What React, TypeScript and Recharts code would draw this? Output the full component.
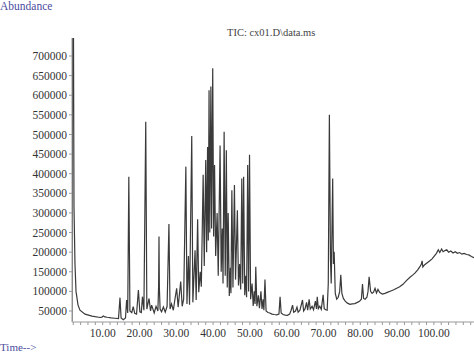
import { LineChart, Line, XAxis, YAxis } from "recharts";

// retention time (min), abundance
const solventFront: [number, number][] = [
  [1.66, 24000], [1.85, 800000], [2.05, 800000], [2.2, 315000], [2.47, 170000],
  [2.75, 100000], [3.3, 65000], [3.83, 52000], [5.2, 42000], [7.1, 37000],
  [9.3, 33500], [9.8, 34500], [10.2, 37500], [10.6, 35000], [11.2, 34000],
  [12.3, 32500], [13.3, 31500], [14.3, 30500], [14.7, 84000], [15.0, 32000],
  [15.6, 27500], [16.2, 32000], [16.5, 78000], [16.8, 45000],
];

const earlyPeaks: [number, number][] = [
  [17.1, 392000], [17.4, 50000], [17.9, 46000], [18.3, 61000], [18.7, 44000],
  [19.2, 42000], [19.7, 103500], [20.1, 48000], [20.5, 46000], [20.8, 86500],
  [21.2, 52000], [21.7, 532500], [22.0, 55000], [22.6, 82000], [23.0, 50000],
  [23.3, 65000], [24.0, 45000], [24.5, 62000], [25.0, 50000], [25.2, 115000],
  [25.3, 240000], [25.4, 110000], [25.6, 55000], [26.0, 48000], [26.5, 60000],
  [27.0, 47000], [27.5, 62000], [28.0, 272000], [28.3, 55000], [28.7, 68000],
  [29.2, 52000], [29.6, 78000], [30.1, 108000], [30.5, 60000], [31.2, 125000],
  [31.6, 62000], [32.0, 80000], [32.6, 418000], [32.9, 68000], [33.3, 190000],
  [33.6, 66000], [34.2, 496000], [34.5, 72000], [35.1, 205000], [35.4, 78000],
];

const mainCluster: [number, number][] = [
  [35.8, 284000], [36.1, 98000], [36.5, 150000], [36.8, 112000], [37.3, 397000],
  [37.6, 165000], [37.8, 300000], [38.0, 435000], [38.25, 200000], [38.5, 468000],
  [38.7, 230000], [38.9, 613000], [39.1, 250000], [39.4, 622000], [39.6, 260000],
  [39.9, 669000], [40.15, 240000], [40.4, 422000], [40.7, 190000], [41.1, 300000],
  [41.4, 140000], [41.9, 472000], [42.2, 150000], [42.5, 260000], [42.7, 120000],
  [43.0, 507000], [43.3, 140000], [43.6, 460000], [43.85, 110000], [44.1, 300000],
  [44.4, 88000], [44.7, 160000], [44.85, 95000], [45.1, 358000], [45.4, 110000],
  [45.8, 371000], [46.1, 130000], [46.6, 307000], [46.9, 115000], [47.2, 170000],
  [47.5, 105000], [47.8, 388000], [48.05, 120000], [48.3, 392000], [48.6, 90000],
  [48.9, 140000], [49.1, 85000], [49.4, 422000], [49.65, 100000], [49.9, 448000],
  [50.2, 80000], [50.6, 120000], [50.9, 63000], [51.2, 100000], [51.4, 68000],
  [51.6, 163000], [51.9, 62000], [52.3, 90000], [52.6, 57000], [53.0, 100000],
  [53.3, 55000], [53.6, 80000], [53.8, 52000], [54.1, 130000], [54.4, 50000],
  [54.9, 46000], [55.4, 45000], [56.0, 42000], [56.6, 41000], [57.3, 40000],
  [57.9, 42000], [58.2, 86000], [58.5, 45000],
];

const latePeaks: [number, number][] = [
  [59.0, 41000], [59.6, 39500], [60.2, 39000], [60.8, 42000], [61.2, 52000],
  [61.6, 65000], [61.9, 47000], [62.4, 50000], [62.8, 60000], [63.1, 47000],
  [63.6, 52000], [64.3, 78000], [64.6, 50000], [65.0, 56000], [65.4, 72000],
  [65.7, 52000], [66.1, 80000], [66.4, 55000], [66.9, 62000], [67.3, 53000],
  [67.8, 75000], [68.1, 55000], [68.3, 86000], [68.6, 56000], [69.0, 62000],
  [69.4, 54000], [69.9, 91000], [70.2, 56000], [70.6, 53000], [71.0, 52000],
  [71.3, 120000], [71.6, 550000], [71.9, 180000], [72.1, 120000], [72.5, 388000],
  [72.7, 170000], [72.9, 201000], [73.2, 95000], [73.6, 80000], [74.0, 85000],
  [74.4, 100000], [74.7, 142000], [75.0, 95000], [75.4, 82000], [75.9, 75000],
];

const columnBleed: [number, number][] = [
  [76.5, 70000], [77.2, 67000], [77.8, 68000], [78.5, 69000], [79.2, 72000],
  [79.8, 75000], [80.3, 80000], [80.6, 119000], [80.9, 82000], [81.3, 80000],
  [81.8, 85000], [82.1, 100000], [82.4, 137000], [82.8, 100000], [83.2, 95000],
  [83.6, 98000], [84.0, 108000], [84.4, 96000], [84.8, 105000], [85.3, 97000],
  [86.0, 93000], [86.7, 95000], [87.5, 98000], [88.3, 101000], [89.1, 104000],
  [89.9, 108000], [90.7, 112000], [91.6, 118000], [92.6, 128000], [93.5, 136000],
  [94.3, 142000], [94.9, 147000], [95.6, 155000], [96.2, 163000], [96.6, 170000],
  [96.8, 178000], [97.0, 162000], [97.5, 168000], [98.2, 173000], [98.9, 178000],
  [99.5, 183000], [100.1, 190000], [100.7, 197000], [101.2, 206000], [101.6, 199000],
  [102.1, 208000], [102.5, 201000], [103.0, 204000], [103.5, 206000], [104.0, 200000],
  [104.6, 203000], [105.2, 198000], [105.8, 201000], [106.4, 197000], [107.0, 199000],
  [107.6, 195000], [108.2, 197000], [108.9, 194000], [109.5, 193000], [110.2, 189000],
  [110.9, 186000],
];

const timeTicks = [
  2, 4, 6, 8, 10, 12, 14, 16, 18, 20, 22, 24, 26, 28, 30, 32, 34, 36, 38, 40,
  42, 44, 46, 48, 50, 52, 54, 56, 58, 60, 62, 64, 66, 68, 70, 72, 74, 76, 78, 80,
  82, 84, 86, 88, 90, 92, 94, 96, 98, 100, 102, 104, 106, 108, 110,
];
const labelledTimes = [10, 20, 30, 40, 50, 60, 70, 80, 90, 100];
const abundanceTicks = [
  50000, 100000, 150000, 200000, 250000, 300000, 350000,
  400000, 450000, 500000, 550000, 600000, 650000, 700000,
];

const data = [...solventFront, ...earlyPeaks, ...mainCluster, ...latePeaks, ...columnBleed].map(
  ([t, v]) => ({ t, v })
);

const font = "'Liberation Serif', serif";
const labelBlue = "#4b4b9e";

const TimeTick = ({ x, y, payload }: any) => {
  if (!labelledTimes.includes(payload.value)) return null;
  return (
    <text x={x} y={y} dy="0.71em" textAnchor="middle" fontSize={11.5} fontFamily={font} fill="#333">
      {payload.value.toFixed(2)}
    </text>
  );
};

const AbundanceTick = ({ x, y, payload }: any) => (
  <text x={x} y={y} dy="0.355em" textAnchor="end" fontSize={11.5} fontFamily={font} fill="#333">
    {payload.value}
  </text>
);

export default function App() {
  return (
    <div style={{ position: "absolute", left: 0, top: 0, width: 474, height: 352, background: "#fff" }}>
      <div style={{ position: "absolute", left: 0, top: 0, lineHeight: "12px", fontFamily: font, fontSize: 11.5, color: labelBlue }}>
        Abundance
      </div>
      <div style={{ position: "absolute", left: 227, top: 27, lineHeight: "12px", fontFamily: font, fontSize: 10.5, color: "#444" }}>
        TIC: cx01.D\data.ms
      </div>
      <div style={{ position: "absolute", left: 0, top: 341, lineHeight: "12px", fontFamily: font, fontSize: 11, color: labelBlue }}>
        Time--&gt;
      </div>
      <LineChart width={474} height={352} data={data} margin={{ top: 38, right: 0, bottom: 0, left: 0 }}>
        <XAxis
          type="number"
          dataKey="t"
          domain={[1.66, 110.9]}
          allowDataOverflow
          ticks={timeTicks}
          interval={0}
          tick={<TimeTick />}
          tickSize={3}
          tickMargin={4}
          height={30}
          stroke="#999"
        />
        <YAxis
          type="number"
          domain={[21960, 745900]}
          allowDataOverflow
          ticks={abundanceTicks}
          interval={0}
          tick={<AbundanceTick />}
          tickSize={3}
          tickMargin={2}
          width={72}
          stroke="#999"
        />
        <Line
          type="linear"
          dataKey="v"
          stroke="#3a3a3a"
          strokeWidth={1.2}
          dot={false}
          isAnimationActive={false}
        />
      </LineChart>
    </div>
  );
}
